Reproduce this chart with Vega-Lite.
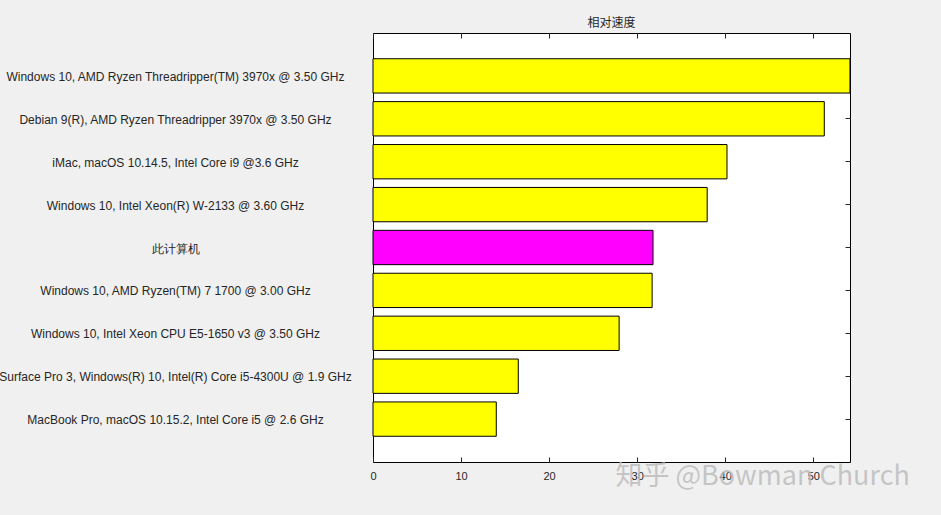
{
  "$schema": "https://vega.github.io/schema/vega-lite/v6.json",
  "width": 477,
  "height": 429,
  "autosize": {"type": "none"},
  "padding": {"left": 373, "top": 33, "right": 91, "bottom": 53},
  "background": "#f0f0f0",
  "title": {"text": "相对速度", "font": "Noto Sans CJK SC", "fontSize": 12, "fontWeight": "normal", "color": "#262626", "anchor": "middle", "offset": 3},
  "data": {"values": [
    {"machine": "Windows 10, AMD Ryzen Threadripper(TM) 3970x @ 3.50 GHz", "speed": 54.17, "self": "no"},
    {"machine": "Debian 9(R), AMD Ryzen Threadripper 3970x @ 3.50 GHz", "speed": 51.25, "self": "no"},
    {"machine": "iMac, macOS 10.14.5, Intel Core i9 @3.6 GHz", "speed": 40.2, "self": "no"},
    {"machine": "Windows 10, Intel Xeon(R) W-2133 @ 3.60 GHz", "speed": 37.95, "self": "no"},
    {"machine": "此计算机", "speed": 31.8, "self": "yes"},
    {"machine": "Windows 10, AMD Ryzen(TM) 7 1700 @ 3.00 GHz", "speed": 31.7, "self": "no"},
    {"machine": "Windows 10, Intel Xeon CPU E5-1650 v3 @ 3.50 GHz", "speed": 27.95, "self": "no"},
    {"machine": "Surface Pro 3, Windows(R) 10, Intel(R) Core i5-4300U @ 1.9 GHz", "speed": 16.5, "self": "no"},
    {"machine": "MacBook Pro, macOS 10.15.2, Intel Core i5 @ 2.6 GHz", "speed": 14.0, "self": "no"}
  ]},
  "encoding": {
    "y": {"field": "machine", "type": "nominal", "sort": null,
          "scale": {"paddingInner": 0.2, "paddingOuter": 0.6}},
    "x": {"field": "speed", "type": "quantitative",
          "scale": {"domain": [0, 54.17], "nice": false, "zero": true}}
  },
  "layer": [
    {
      "mark": {"type": "bar", "stroke": "black", "strokeWidth": 1},
      "encoding": {
        "color": {"field": "self", "type": "nominal",
                  "scale": {"domain": ["no", "yes"], "range": ["#ffff00", "#ff00ff"]},
                  "legend": null},
        "x": {"field": "speed", "type": "quantitative",
              "axis": {"orient": "bottom", "title": "知乎 @Bowman Church", "values": [0, 10, 20, 30, 40, 50],
                       "grid": false, "tickSize": -5, "tickColor": "#262626", "domain": false, "labelFlush": false,
                       "labelFont": "Liberation Sans", "labelFontSize": 11, "labelColor": "#262626", "labelPadding": 13,
                       "titleFont": "Noto Sans CJK SC", "titleFontSize": 27, "titleFontWeight": "normal",
                       "titleColor": "#bdbdbd", "titleOpacity": 0.85, "titleAlign": "left", "titleAnchor": "start",
                       "titleX": 242, "titleY": 14, "titleBaseline": "middle"}},
        "y": {"field": "machine", "type": "nominal", "sort": null,
              "axis": {"orient": "left", "title": null, "grid": false, "tickSize": -5, "tickColor": "#262626",
                       "domain": false, "labelAlign": "center", "labelPadding": 203, "labelLimit": 600,
                       "labelFont": "Liberation Sans", "labelFontSize": 12, "labelColor": "#262626", "labelOffset": 1}}
      }
    },
    {
      "mark": {"type": "bar", "opacity": 0},
      "encoding": {
        "x": {"field": "speed", "type": "quantitative",
              "axis": {"orient": "top", "title": null, "values": [0, 10, 20, 30, 40, 50], "labels": false,
                       "grid": false, "tickSize": -5, "tickColor": "#262626", "domain": false}},
        "y": {"field": "machine", "type": "nominal", "sort": null,
              "axis": {"orient": "right", "title": null, "labels": false, "grid": false,
                       "tickSize": -5, "tickColor": "#262626", "domain": false}}
      }
    }
  ],
  "resolve": {"axis": {"x": "independent", "y": "independent"}},
  "config": {
    "view": {"fill": "white", "stroke": "black", "strokeWidth": 1}
  }
}
